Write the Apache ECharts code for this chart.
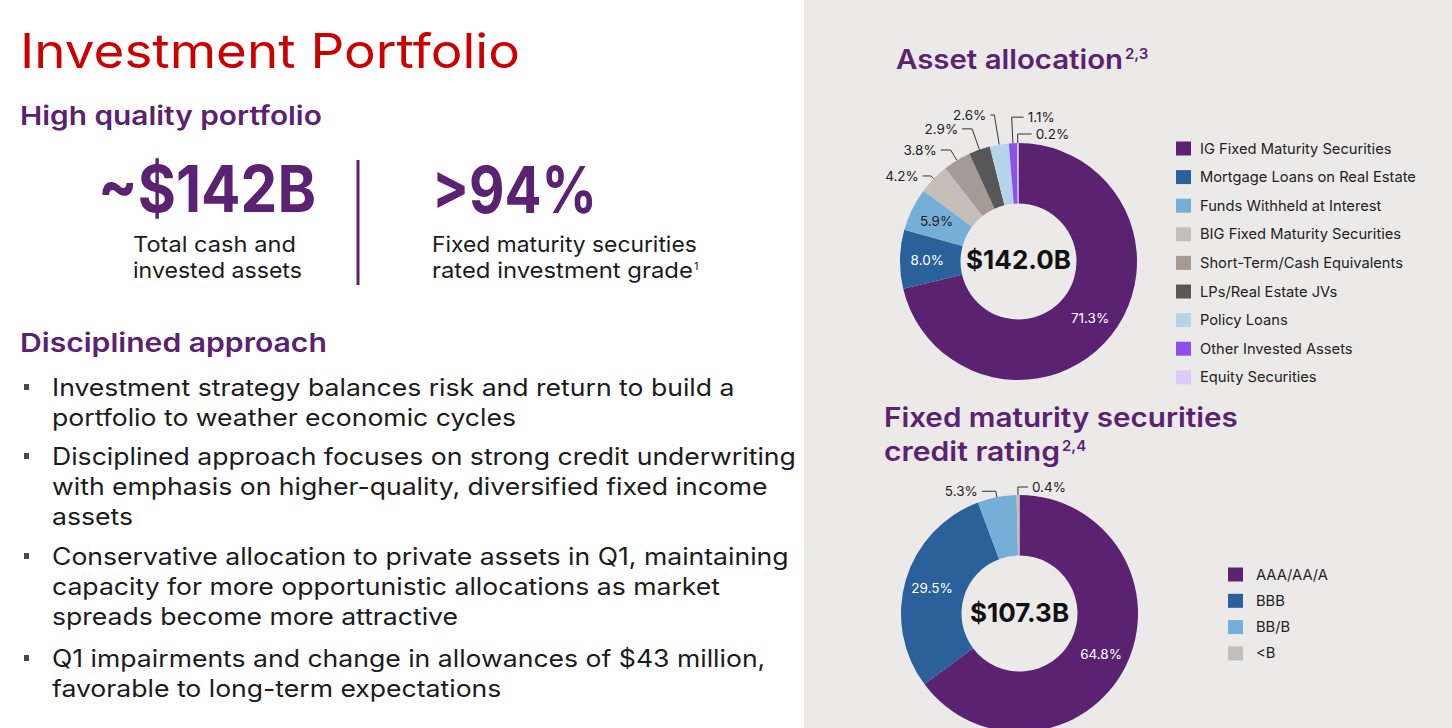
<!DOCTYPE html>
<html><head><meta charset="utf-8">
<script src="https://cdn.jsdelivr.net/npm/echarts@6/dist/echarts.min.js"></script>
<style>html,body{margin:0;padding:0;background:#fff}#c{width:1452px;height:728px}</style>
</head><body><div id="c"></div>
<script>
// ---------------- DATA ----------------
const assetCategories = ['IG Fixed Maturity Securities','Mortgage Loans on Real Estate','Funds Withheld at Interest','BIG Fixed Maturity Securities','Short-Term/Cash Equivalents','LPs/Real Estate JVs','Policy Loans','Other Invested Assets','Equity Securities'];
const assetValues = [71.3, 8.0, 5.9, 4.2, 3.8, 2.9, 2.6, 1.1, 0.2];
const assetTotal = '$142.0B';
const ratingCategories = ['AAA/AA/A','BBB','BB/B','<B'];
const ratingValues = [64.8, 29.5, 5.3, 0.4];
const ratingTotal = '$107.3B';
const headlineValues = ['~$142B', '>94%'];
const bullets = [
  ['Investment strategy balances risk and return to build a','portfolio to weather economic cycles'],
  ['Disciplined approach focuses on strong credit underwriting','with emphasis on higher-quality, diversified fixed income','assets'],
  ['Conservative allocation to private assets in Q1, maintaining','capacity for more opportunistic allocations as market','spreads become more attractive'],
  ['Q1 impairments and change in allowances of $43 million,','favorable to long-term expectations']
];

// ---------------- STYLE ----------------
const FONT = 'Inter, "Noto Sans", Arial, sans-serif';
const RED = '#CC0000', PURPLE = '#5A2270', INK = '#1c1c1c', PANEL = '#ECEAE8';
const assetPalette = ['#5A2270','#2B619A','#75AED6','#C4BDB8','#A59B96','#575757','#B3D4EA','#8E4FEA','#DCCBF4'];
const ratingPalette = ['#5A2270','#2B619A','#75AED6','#C4BDB8'];
// leader line [length, length2] per outside label (style only)
const assetLeaders = {3:[4,8], 4:[12,10], 5:[22,10], 6:[30,4], 7:[26,12], 8:[9,14]};
const ratingLeaders = {2:[6,14], 3:[8,10]};

const ctx2d = document.createElement('canvas').getContext('2d');
function measure(t, font){ ctx2d.font = font; return ctx2d.measureText(t).width; }
function fontOf(size, w){ return `${w||400} ${size}px ${FONT}`; }
const graphics = [];
function txt(o){
  const font = fontOf(o.size, o.w);
  const mw = measure(o.t, font);
  const sx = o.tw ? o.tw / mw : (o.sx || 1);
  graphics.push({type:'text', x:o.x, y:o.b - 0.36*o.size, scaleX:sx, z:10, silent:true,
    style:{text:o.t, font, fill:o.c, align:o.align||'left', textAlign:o.align||'left',
           verticalAlign:'middle', textVerticalAlign:'middle'}});
  if (o.sup){
    const ss = o.supSize || o.size*0.5;
    txt({x:o.x + mw*sx + (o.supGap||1), b:o.b - o.size*0.36, t:o.sup, size:ss, w:o.w, c:o.c});
  }
  return mw*sx;
}

// background panel
graphics.push({type:'rect', shape:{x:804, y:0, width:648, height:728}, style:{fill:PANEL}, z:-10, silent:true});

// left panel
txt({x:20, b:68, t:'Investment Portfolio', size:48, w:400, c:RED, tw:500});
txt({x:20, b:125, t:'High quality portfolio', size:26, w:600, c:PURPLE, tw:302});
txt({x:98, b:212, t:headlineValues[0], size:64, w:700, c:PURPLE, tw:218});
txt({x:133, b:252, t:'Total cash and', size:22, w:400, c:INK, tw:163});
txt({x:133, b:278, t:'invested assets', size:22, w:400, c:INK, tw:169});
graphics.push({type:'line', shape:{x1:358, y1:160, x2:358, y2:285}, style:{stroke:PURPLE, lineWidth:3}, silent:true});
txt({x:432, b:212, t:headlineValues[1], size:64, w:700, c:PURPLE, tw:165});
txt({x:432, b:252, t:'Fixed maturity securities', size:22, w:400, c:INK, tw:265});
txt({x:432, b:278, t:'rated investment grade', size:22, w:400, c:INK, tw:261, sup:'1', supSize:11});
txt({x:20, b:352, t:'Disciplined approach', size:26, w:600, c:PURPLE, tw:307});

const bulletSize = 24;
const bsx = 683 / measure(bullets[0][0], fontOf(bulletSize, 400));
const bulletBase = [396, 465, 565, 667];
bullets.forEach((lines, i) => {
  const b0 = bulletBase[i];
  graphics.push({type:'rect', shape:{x:24, y:b0 - 12, width:5, height:6}, style:{fill:'#4a4a4a'}, silent:true});
  lines.forEach((l, j) => txt({x:52, b:b0 + j*30, t:l, size:bulletSize, w:400, c:INK, sx:bsx}));
});

// right panel headings
txt({x:896, b:69, t:'Asset allocation', size:27, w:600, c:PURPLE, tw:227, sup:'2,3', supSize:15, supGap:2});
txt({x:884, b:427, t:'Fixed maturity securities', size:27, w:600, c:PURPLE, tw:354});
txt({x:884, b:461, t:'credit rating', size:27, w:600, c:PURPLE, tw:176, sup:'2,4', supSize:15, supGap:2});

// pies
const pie1Center = [1018.5, 261.5], pie2Center = [1019.5, 613.5];
txt({x:pie1Center[0], b:269, t:assetTotal, size:26, w:700, c:'#111', align:'center'});
txt({x:pie2Center[0], b:622, t:ratingTotal, size:26, w:700, c:'#111', align:'center'});

function isLight(hex){
  const n = parseInt(hex.slice(1),16);
  const r=(n>>16)&255,g=(n>>8)&255,b=n&255;
  return (0.299*r+0.587*g+0.114*b) > 150;
}
function pieSeries(cats, vals, palette, center, leaders, flipFrom){
  return {
    type:'pie', center, radius:[58,118.5], startAngle:90, clockwise:true,
    avoidLabelOverlap:false, minShowLabelAngle:0, silent:true,
    label:{show:true, formatter:p=>p.value.toFixed(1)+'%', fontFamily:FONT, fontSize:13.5, color:'#222', distanceToLabelLine:4},
    labelLine:{show:true, length:8, length2:12, lineStyle:{color:'#333', width:1}},
    labelLayout: function(params){
      if (params.dataIndex < flipFrom) return {};
      const pts = params.labelLinePoints;
      if (!pts) return {};
      const p0 = pts[0], p1 = pts[1], p2 = pts[2];
      const len2 = Math.abs(p2[0]-p1[0]);
      const np2 = [p1[0] + len2, p2[1]];
      return {x: np2[0] + 4, y: np2[1], align:'left', verticalAlign:'middle', labelLinePoints:[p0, p1, np2]};
    },
    data: cats.map((n,i)=>{
      const inside = vals[i] >= 5.5;
      const ld = leaders[i] || [8,12];
      return {name:n, value:vals[i], itemStyle:{color:palette[i]},
        label: inside ? {position:'inside', color: isLight(palette[i]) ? '#222' : '#fff'} : {position:'outside'},
        labelLine: inside ? {show:false} : {show:true, length:ld[0], length2:ld[1]}};
    })
  };
}

const legendBase = {orient:'vertical', icon:'rect', itemWidth:15, itemHeight:14, selectedMode:false, padding:0,
  textStyle:{fontFamily:FONT, fontSize:14.7, color:'#222'}};

const chart = echarts.init(document.getElementById('c'), null, {renderer:'svg'});
chart.setOption({
  animation:false,
  backgroundColor:'#ffffff',
  legend:[
    Object.assign({}, legendBase, {data:assetCategories, left:1176, top:141, itemGap:13.6,
      textStyle:Object.assign({}, legendBase.textStyle, {padding:[0,0,0,4]})}),
    Object.assign({}, legendBase, {data:ratingCategories, left:1228, top:567, itemGap:11.3,
      textStyle:Object.assign({}, legendBase.textStyle, {padding:[0,0,0,8]})})
  ],
  series:[
    pieSeries(assetCategories, assetValues, assetPalette, pie1Center, assetLeaders, 7),
    pieSeries(ratingCategories, ratingValues, ratingPalette, pie2Center, ratingLeaders, 3)
  ],
  graphic:{elements:graphics}
});
</script></body></html>
